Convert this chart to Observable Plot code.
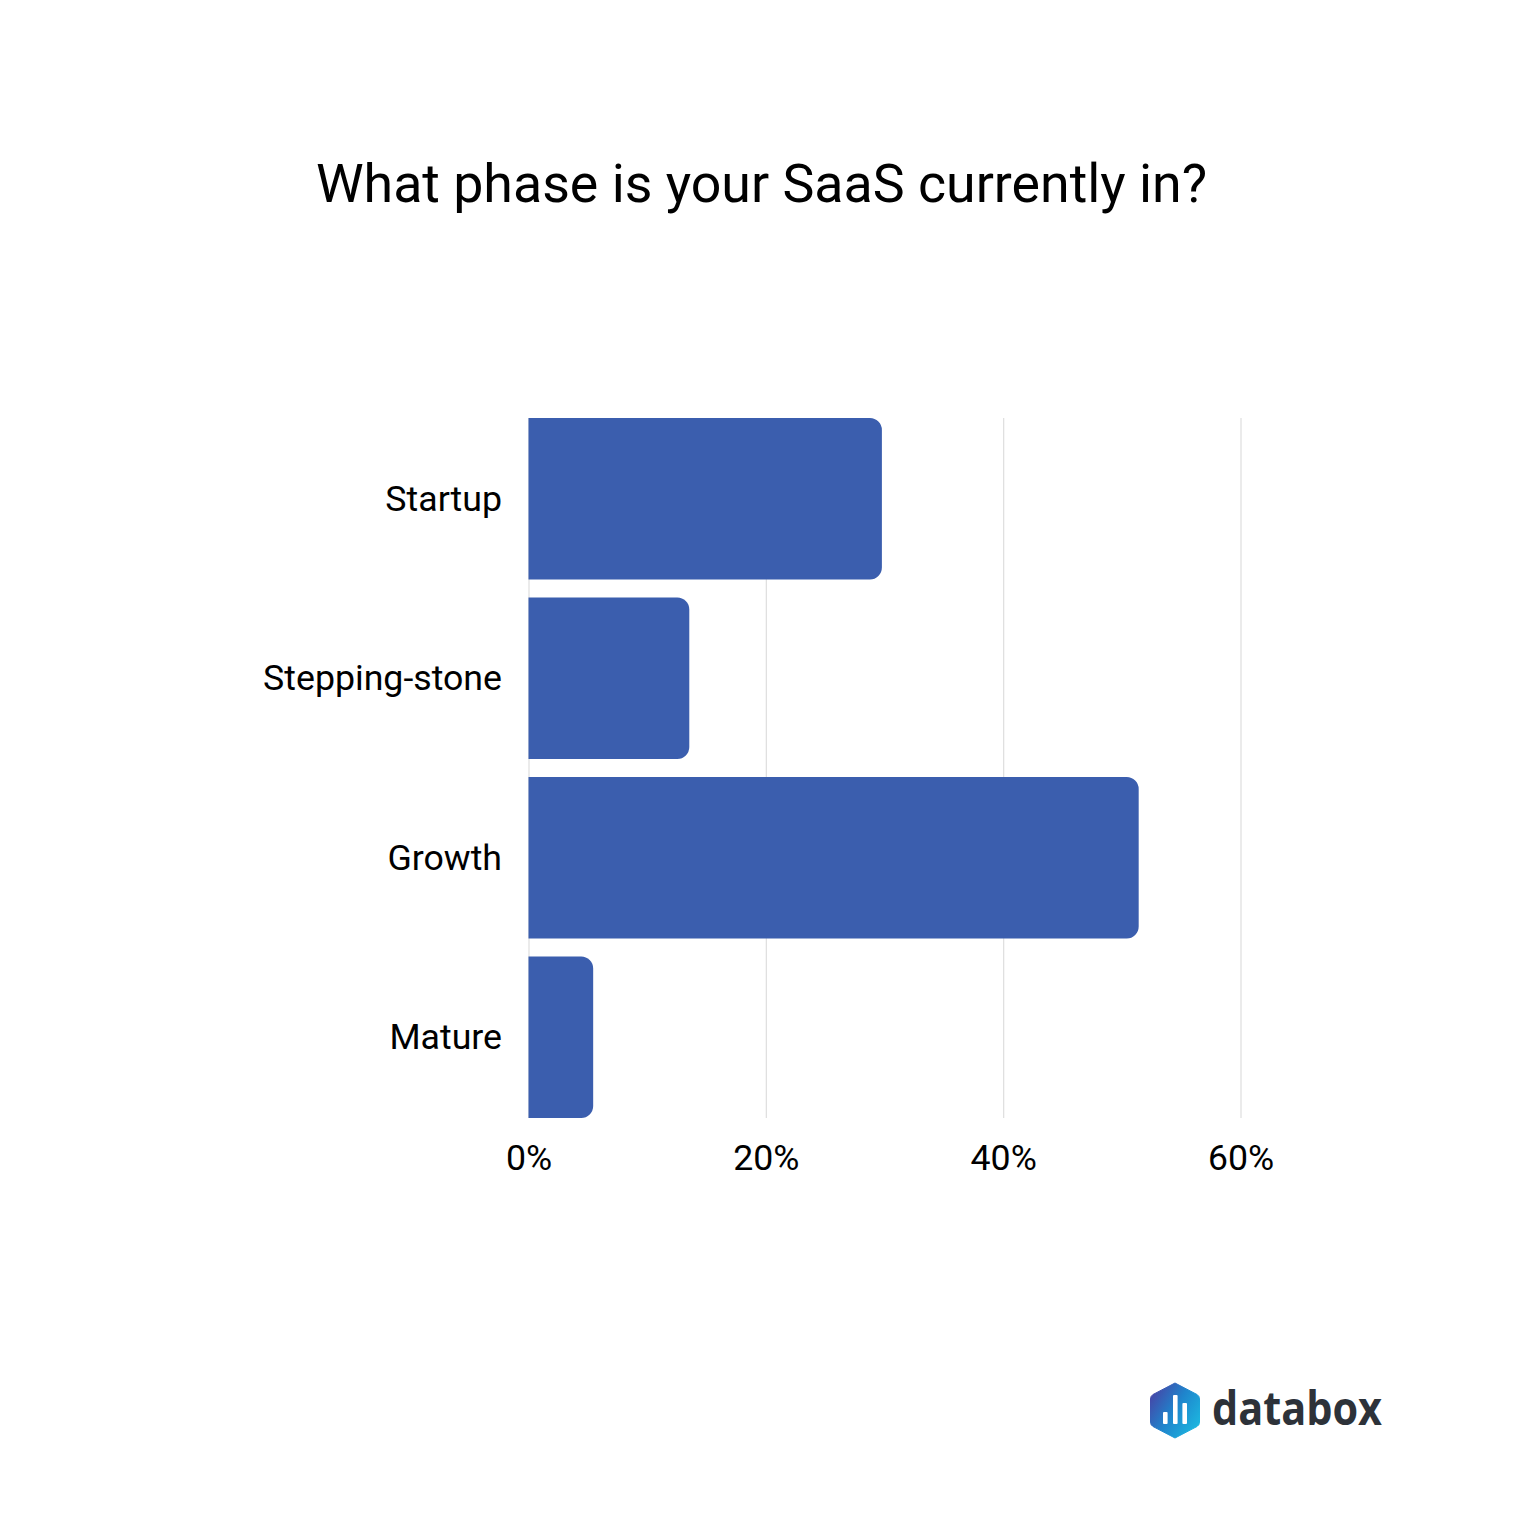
<!DOCTYPE html>
<html>
<head>
<meta charset="utf-8">
<script src="https://cdn.jsdelivr.net/npm/d3@7"></script>
<script src="https://cdn.jsdelivr.net/npm/@observablehq/plot@0.6"></script>
<style>
html,body{margin:0;padding:0;background:#fff}
#wrap{position:relative;width:1536px;height:1536px;overflow:hidden}
#title{position:absolute;left:0;width:1523px;top:152px;text-align:center;font:400 53.7px/64px Roboto,sans-serif;color:#000;white-space:nowrap}
#logo{position:absolute;left:1140px;top:1372px}
</style>
</head>
<body>
<div id="wrap">
<div id="title">What phase is your SaaS currently in?</div>
<div id="chart"></div>
<svg id="logo" width="260" height="76" viewBox="0 0 260 76">
<defs><linearGradient id="g" x1="0" y1="0.1" x2="1" y2="0.8">
<stop offset="0" stop-color="#4a3fa3"/><stop offset="0.5" stop-color="#1f84cc"/><stop offset="1" stop-color="#1cb8e0"/>
</linearGradient></defs>
<path d="M35 11 L57 22.5 Q59.5 24 59.5 27 L59.5 50 Q59.5 53 57 54.5 L35 66 L13 54.5 Q10.5 53 10.5 50 L10.5 27 Q10.5 24 13 22.5 Z" fill="url(#g)" stroke="url(#g)" stroke-width="1" stroke-linejoin="round"/>
<rect x="23" y="40" width="4.6" height="12" rx="1" fill="#fff"/>
<rect x="33" y="23" width="4.6" height="29" rx="1" fill="#fff"/>
<rect x="42.4" y="31" width="4.6" height="21" rx="1" fill="#fff"/>
<text x="72" y="53" font-family="Open Sans, sans-serif" font-weight="700" font-size="46" fill="#2d3239" textLength="170" lengthAdjust="spacingAndGlyphs">databox</text>
</svg>
</div>
<script>
const phases = ["Startup", "Stepping-stone", "Growth", "Mature"];
const shares = [29.78, 13.55, 51.42, 5.45];
const tickValues = [0, 20, 40, 60];
const table = phases.map((phase, i) => ({phase, share: shares[i]}));

const plot = Plot.plot({
  width: 1536,
  height: 1536,
  marginLeft: 528.5,
  marginRight: 295.5,
  marginTop: 418,
  marginBottom: 418,
  style: {background: "transparent", fontFamily: "Roboto, sans-serif", color: "#000"},
  x: {domain: [0, 60], ticks: tickValues, label: null},
  y: {domain: phases, paddingInner: 0.1, paddingOuter: 0, align: 0.5, round: false, label: null},
  marks: [
    Plot.ruleX(tickValues, {stroke: "#dedede", strokeWidth: 1.2, strokeOpacity: 1}),
    Plot.barX(table, {x1: 0, x2: "share", y: "phase", fill: "#3b5eae", rx2: 12}),
    Plot.axisX({ticks: tickValues, tickFormat: d => d + "%", tickSize: 0, tickPadding: 26, fontSize: 35.7, label: null, anchor: "bottom"}),
    Plot.axisY({tickSize: 0, tickPadding: 27, fontSize: 35.7, label: null, anchor: "left"})
  ]
});
document.getElementById("chart").appendChild(plot);
</script>
</body>
</html>
